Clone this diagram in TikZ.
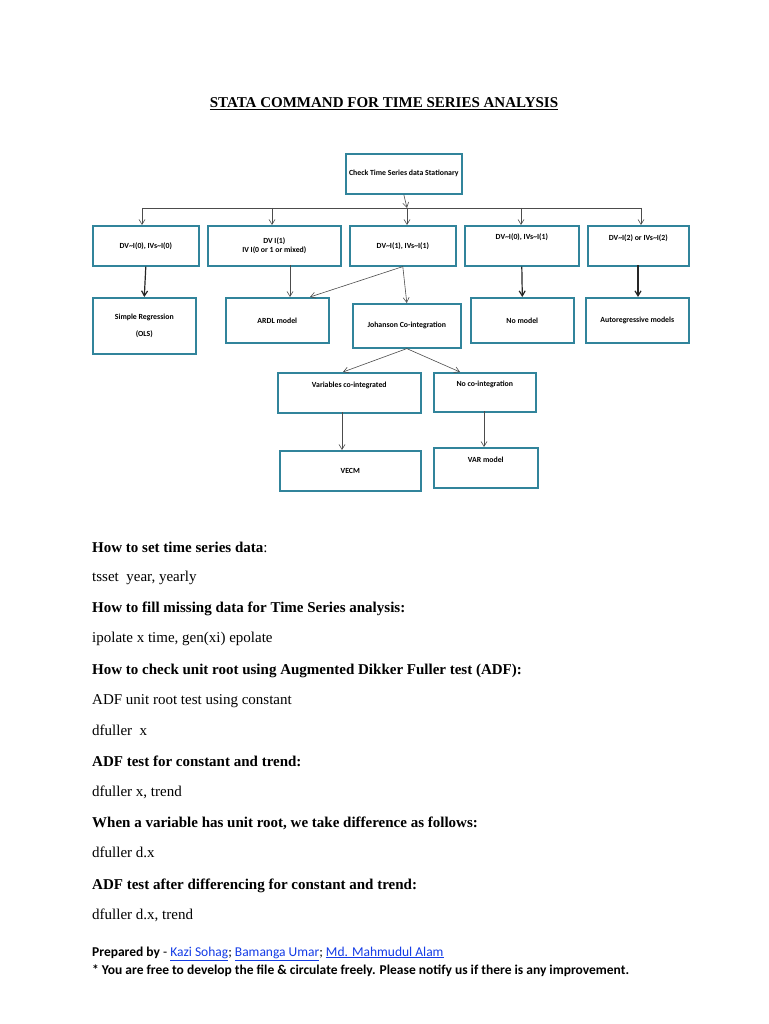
\documentclass[tikz,border=0pt]{standalone}
\usepackage{fontspec}
\setmainfont{Liberation Serif}
\newfontfamily\carl{Carlito}
\usetikzlibrary{arrows.meta}
\definecolor{boxc}{RGB}{49,132,155}
\definecolor{linkc}{RGB}{20,60,230}
\tikzset{
 bx/.style={draw=boxc,line width=1.6pt,fill=white,inner sep=0pt,font=\carl\bfseries\fontsize{7.8}{9.5}\selectfont,align=center},
 ar/.style={-{Straight Barb[length=5pt,width=6pt]},draw=black!70,line width=0.6pt},
 ark/.style={-{Straight Barb[length=5pt,width=6pt]},draw=black!85,line width=1.2pt},
 txt/.style={anchor=base west,inner sep=0pt,font=\fontsize{15}{18}\selectfont},
}
\newcommand{\bxat}[6]{\node[bx,minimum width=#3pt-#1pt,minimum height=#4pt-#2pt,anchor=north west] (#5) at (#1,#2) {#6};}
\begin{document}
\begin{tikzpicture}[x=1pt,y=-1pt]
\useasboundingbox (0,0) rectangle (768,1024);
\fill[white] (0,0) rectangle (768,1024);
\node[anchor=base,inner sep=0pt,font=\bfseries\fontsize{15}{18}\selectfont] (title) at (384,108) {\underline{STATA COMMAND FOR TIME SERIES ANALYSIS}};
\bxat{345}{153}{461}{193}{top}{Check Time Series data Stationary}
\bxat{92}{225}{198}{265}{a}{DV\textasciitilde I(0), IVs\textasciitilde I(0)}
\bxat{207}{225}{340}{265}{b}{DV I(1)\\IV I(0 or 1 or mixed)}
\bxat{349}{225}{455}{265}{c}{DV\textasciitilde I(1), IVs\textasciitilde I(1)}
\bxat{464}{225}{578}{265}{d}{DV\textasciitilde I(0), IVs\textasciitilde I(1)\\[8pt]}
\bxat{587}{225}{688}{265}{e}{DV\textasciitilde I(2) or IVs\textasciitilde I(2)\\[6pt]}
\bxat{92}{297}{195}{353}{a2}{Simple Regression\\[8pt](OLS)}
\bxat{225}{297}{328}{342}{b2}{ARDL model}
\bxat{352}{303}{460}{347}{c2}{Johanson Co-integration}
\bxat{470}{297}{573}{342}{d2}{No model}
\bxat{585}{297}{688}{342}{e2}{Autoregressive models}
\bxat{277}{372}{420}{412}{f}{Variables co-integrated\\[6pt]}
\bxat{433}{372}{535}{411}{g}{No co-integration\\[8pt]}
\bxat{279}{450}{420}{490}{f2}{VECM}
\bxat{433}{447}{537}{487}{g2}{VAR model\\[6pt]}
% connectors
\coordinate (hl) at (142,208); \coordinate (hr) at (641,208);
\draw[draw=black!70,line width=0.6pt] (hl) -- (hr);
\draw[ar] (top.south) -- (407,208);
\foreach \n/\xx in {a/142,b/272,c/407,d/521,e/641}{
  \draw[ar] (\xx,208) -- (\xx,225);
}
\draw[ark] (a.south) -- (a2.north);
\draw[ar] (290,265) -- (290,297);
\draw[ar] (c.south) -- (c2.north);
\draw[ar] (c.south) -- (310,297);
\draw[ark] (d.south) -- (d2.north);
\draw[ark] (638,265) -- (638,297);
\draw[ar] (c2.south) -- (343,372);
\draw[ar] (c2.south) -- (460,372);
\draw[ar] (342,412) -- (342,450);
\draw[ar] (484,411) -- (484,447);
% text
\node[txt] (t1) at (92,552) {\textbf{How to set time series data}:};
\node[txt] (t2) at (92,581) {tsset\ \ year, yearly};
\node[txt] (t3) at (92,612) {\textbf{How to fill missing data for Time Series analysis:}};
\node[txt] (t4) at (92,642) {ipolate x time, gen(xi) epolate};
\node[txt] (t5) at (92,674) {\textbf{How to check unit root using Augmented Dikker Fuller test (ADF):}};
\node[txt] (t6) at (92,704) {ADF unit root test using constant};
\node[txt] (t7) at (92,735) {dfuller\ \ x};
\node[txt] (t8) at (92,766) {\textbf{ADF test for constant and trend:}};
\node[txt] (t9) at (92,796) {dfuller x, trend};
\node[txt] (t10) at (92,827) {\textbf{When a variable has unit root, we take difference as follows:}};
\node[txt] (t11) at (92,857) {dfuller d.x};
\node[txt] (t12) at (92,889) {\textbf{ADF test after differencing for constant and trend:}};
\node[txt] (t13) at (92,919) {dfuller d.x, trend};
\node[txt,font=\carl\fontsize{13.5}{16}\selectfont] (p1) at (92,956) {\textbf{Prepared by} - {\color{linkc}\underline{Kazi Sohag}}; {\color{linkc}\underline{Bamanga Umar}}; {\color{linkc}\underline{Md. Mahmudul Alam}}};
\node[txt,font=\carl\bfseries\fontsize{13.5}{16}\selectfont] (p2) at (92,974) {* You are free to develop the file \& circulate freely. Please notify us if there is any improvement.};
\end{tikzpicture}
\end{document}
